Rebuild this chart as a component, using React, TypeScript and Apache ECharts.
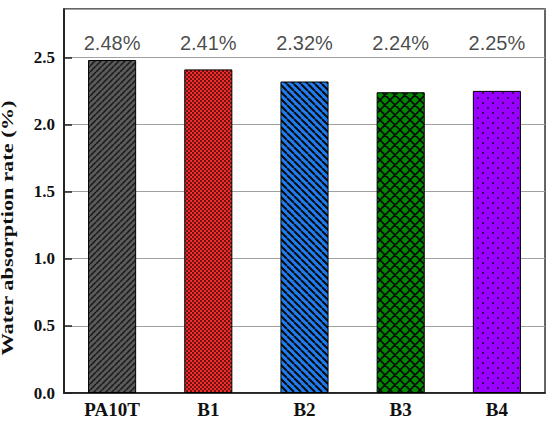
import React, { useEffect, useRef } from "react";
import * as echarts from "echarts";

const categories = ["PA10T", "B1", "B2", "B3", "B4"];
const values = [2.48, 2.41, 2.32, 2.24, 2.25];
const valueLabels = ["2.48%", "2.41%", "2.32%", "2.24%", "2.25%"];
const labelLevel = 2.61;
const yMin = 0;
const yMax = 2.86;
const yInterval = 0.5;
const yName = "Water absorption rate (%)";

function tile(w: number, h: number, bg: string, draw: (c: CanvasRenderingContext2D) => void) {
  const c = document.createElement("canvas");
  c.width = w;
  c.height = h;
  const ctx = c.getContext("2d")!;
  ctx.fillStyle = bg;
  ctx.fillRect(0, 0, w, h);
  draw(ctx);
  return c;
}

function stripes(bg: string, fg: string, dir: "/" | "\\" | "x", p: number, lw: number) {
  return tile(p, p, bg, (ctx) => {
    ctx.strokeStyle = fg;
    ctx.lineWidth = lw;
    ctx.beginPath();
    for (const k of [-1, 0, 1]) {
      if (dir === "/" || dir === "x") {
        ctx.moveTo(k * p, p);
        ctx.lineTo(k * p + p, 0);
      }
      if (dir === "\\" || dir === "x") {
        ctx.moveTo(k * p, 0);
        ctx.lineTo(k * p + p, p);
      }
    }
    ctx.stroke();
  });
}

function checker(bg: string, fg: string) {
  return tile(4, 4, bg, (ctx) => {
    ctx.fillStyle = fg;
    ctx.fillRect(0, 0, 2, 2);
    ctx.fillRect(2, 2, 2, 2);
  });
}

function dots(bg: string, fg: string) {
  return tile(10, 10, bg, (ctx) => {
    ctx.fillStyle = fg;
    ctx.fillRect(2, 2, 2, 2);
    ctx.fillRect(7, 7, 2, 2);
  });
}

export default function App() {
  const ref = useRef<HTMLDivElement>(null);
  useEffect(() => {
    document.body.style.margin = "0";
    const chart = echarts.init(ref.current!, null, { renderer: "svg" });
    const patterns = [
      stripes("#5a5a5a", "#1a1a1a", "/", 6, 1.5),
      checker("#f42c2c", "rgba(0,0,0,0.55)"),
      stripes("#1f7df0", "#0a0a0a", "\\", 7, 2),
      stripes("#008a00", "#0a0a0a", "x", 10, 1.6),
      dots("#9a00ff", "#3a0060"),
    ];
    const serif = '"Liberation Serif", "Times New Roman", serif';
    chart.setOption({
      animation: false,
      grid: {
        left: 64,
        right: 5,
        top: 9,
        bottom: 35,
        show: true,
        borderColor: "#333",
        borderWidth: 1.5,
        backgroundColor: "transparent",
      },
      xAxis: {
        type: "category",
        data: categories,
        axisLine: { lineStyle: { color: "#111", width: 1.5 } },
        axisTick: { show: false },
        axisLabel: {
          fontFamily: serif,
          fontWeight: "bold",
          fontSize: 19,
          color: "#111",
          margin: 7,
        },
      },
      yAxis: {
        type: "value",
        min: yMin,
        max: yMax,
        interval: yInterval,
        axisLine: { show: true, lineStyle: { color: "#111", width: 1.5 } },
        axisTick: { show: true, inside: true, length: 8, lineStyle: { color: "#222", width: 1.5 } },
        axisLabel: {
          fontFamily: serif,
          fontWeight: "bold",
          fontSize: 17,
          color: "#111",
          margin: 9,
          showMaxLabel: false,
          formatter: (v: number) => v.toFixed(1),
        },
        splitLine: { show: true, lineStyle: { color: "#a0a0a0", width: 1 } },
      },
      graphic: [
        {
          type: "text",
          x: 8,
          y: 228,
          rotation: Math.PI / 2,
          scaleX: 1.4,
          style: {
            text: yName,
            fontFamily: serif,
            fontWeight: "bold",
            fontSize: 16,
            fill: "#111",
            textAlign: "center",
            textVerticalAlign: "middle",
          },
        },
      ],
      series: [
        {
          type: "bar",
          barWidth: "50%",
          data: values.map((v, i) => ({
            value: v,
            itemStyle: {
              color: { image: patterns[i], repeat: "repeat" },
              borderColor: "#000",
              borderWidth: 1,
            },
          })),
        },
        {
          type: "scatter",
          symbolSize: 0,
          data: categories.map((_, i) => [i, labelLevel]),
          label: {
            show: true,
            position: "inside",
            formatter: (p: any) => valueLabels[p.dataIndex],
            fontFamily: '"Liberation Sans", Arial, sans-serif',
            fontSize: 20,
            color: "#1a1a1a",
          },
          silent: true,
        },
      ],
    });
    return () => chart.dispose();
  }, []);
  return <div ref={ref} style={{ width: 550, height: 428 }} />;
}
